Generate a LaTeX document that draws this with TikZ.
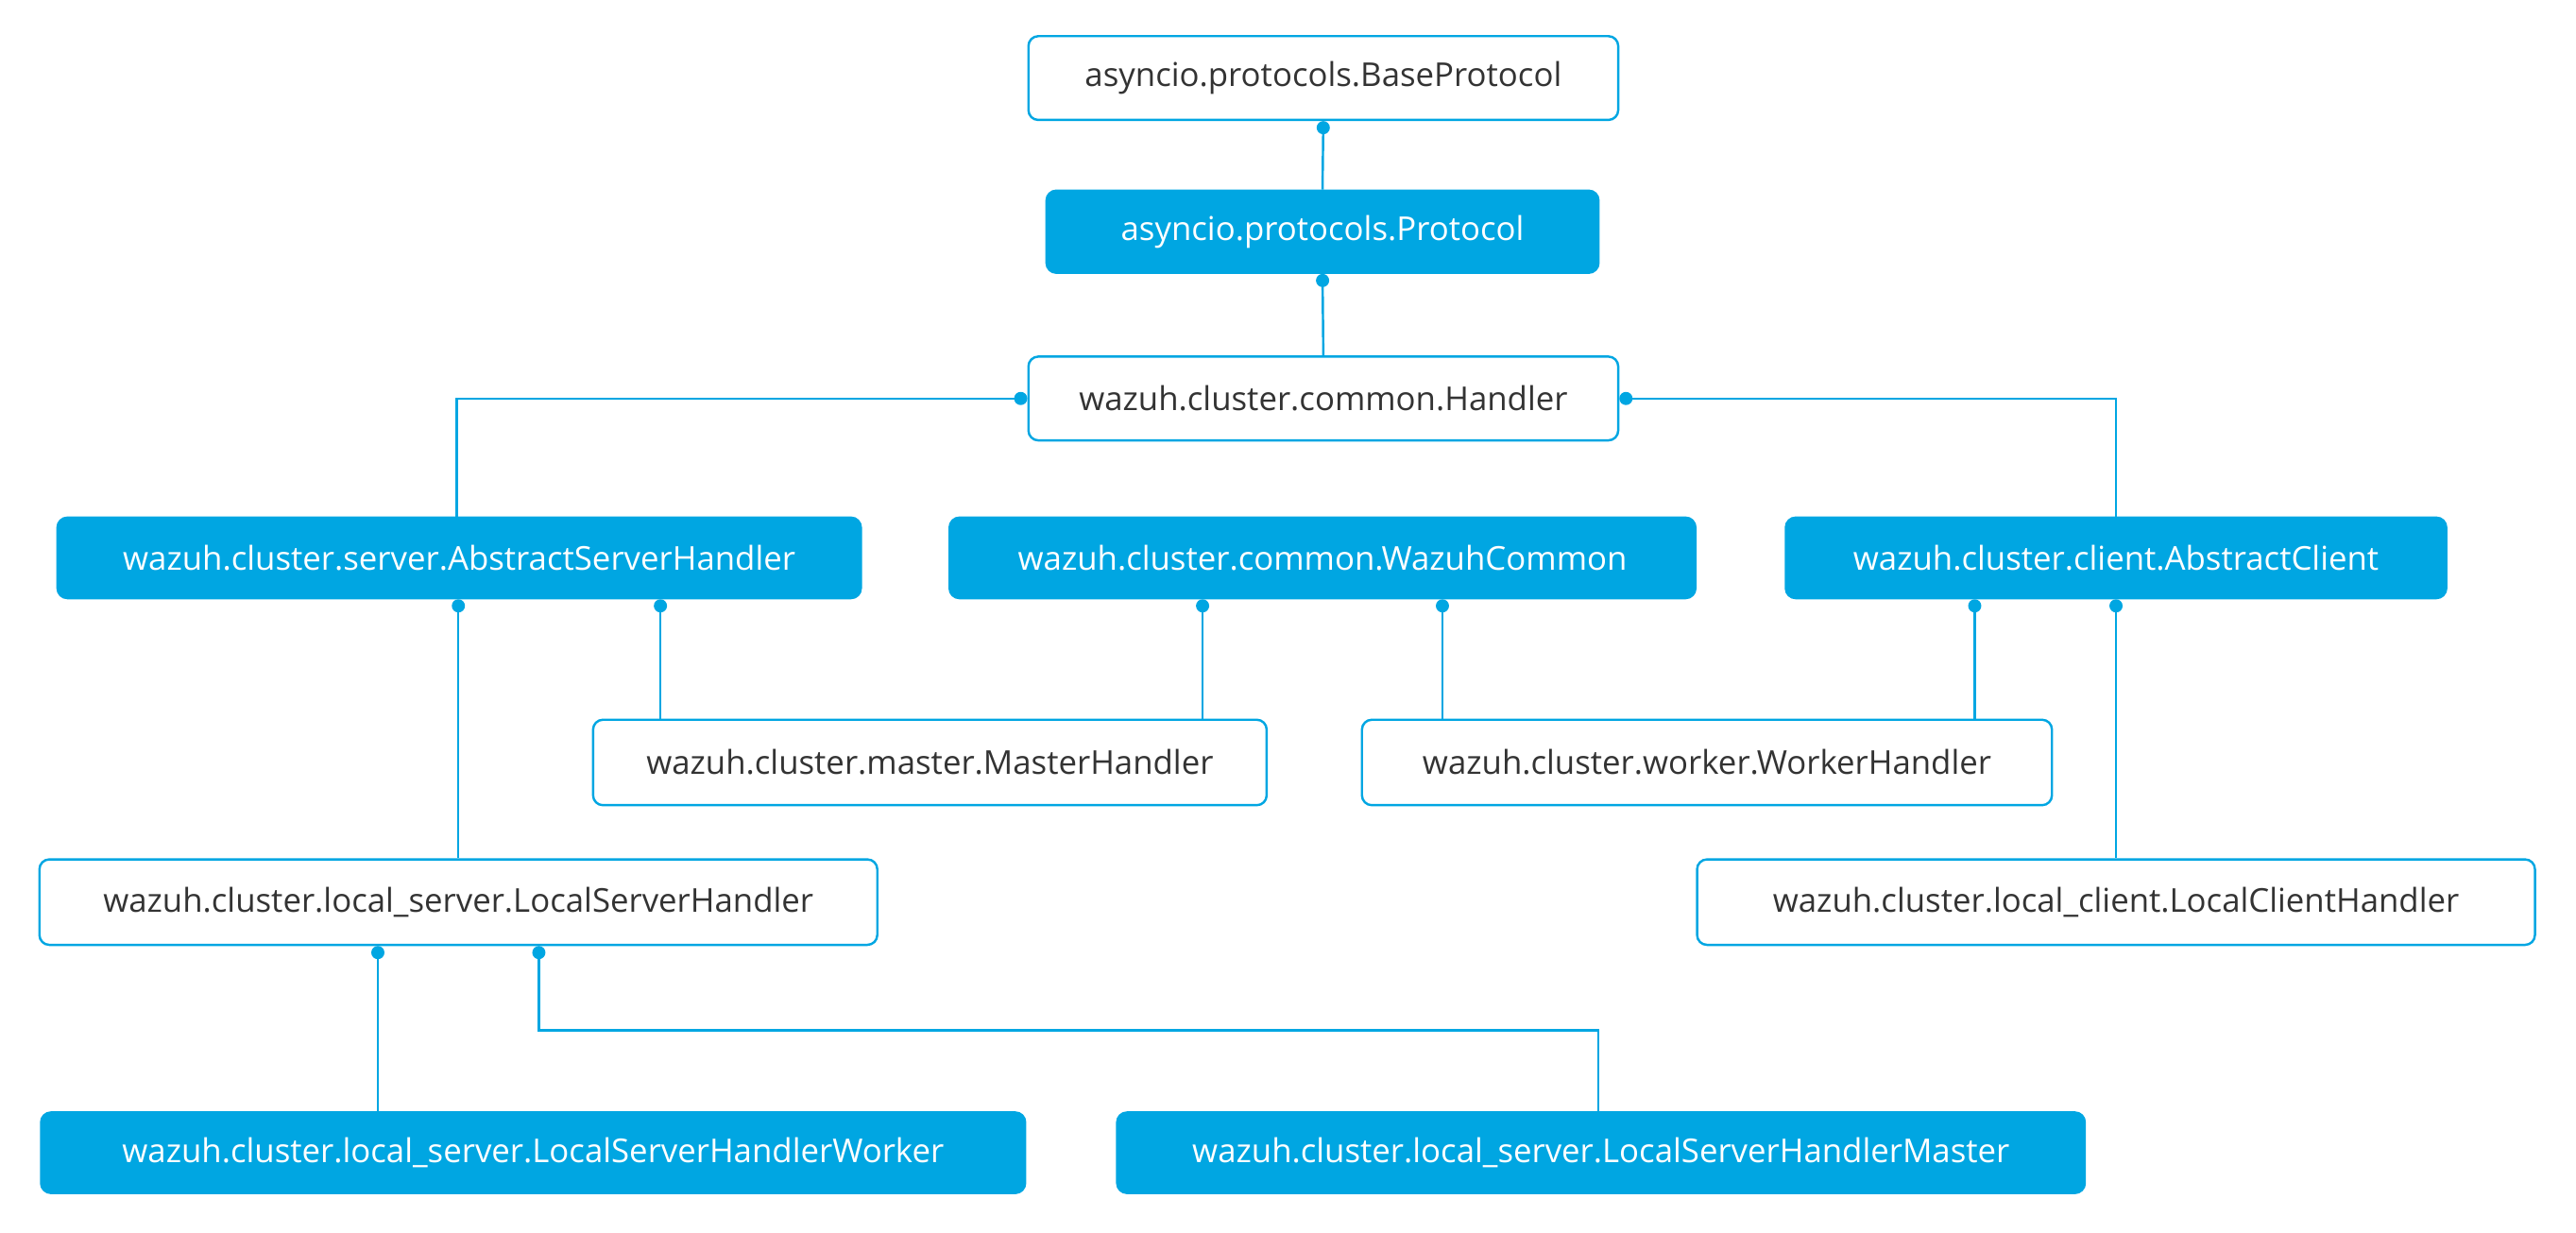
\documentclass[tikz,border=0pt]{standalone}
\usepackage{fontspec}
\setmainfont{Open Sans}
\usetikzlibrary{arrows.meta}
\definecolor{wb}{HTML}{00A6E2}
\definecolor{tx}{HTML}{333333}
\tikzset{
 x=0.5pt,y=-0.5pt,
 box/.style={rounded corners=3pt,line width=0.7pt,draw=wb,inner sep=0pt,font=\fontsize{10}{12}\selectfont},
 wbox/.style={box,fill=white,text=tx},
 bbox/.style={box,fill=wb,text=white},
 con/.style={draw=wb,line width=0.7pt,{Circle[length=4pt]}-},
}
\newcommand{\mkbox}[7]{\node[#1,minimum width={(#4-#3)*0.5pt},minimum height={(#6-#5)*0.5pt}] (#2) at ({(#3+#4)/2},{(#5+#6)/2}) {#7};}
\begin{document}
\begin{tikzpicture}
\useasboundingbox (0,0) rectangle (1568,750);
\mkbox{wbox}{n1}{626}{985}{22}{73}{asyncio.protocols.BaseProtocol}
\mkbox{bbox}{n2}{637}{973}{116}{166}{asyncio.protocols.Protocol}
\mkbox{wbox}{n3}{626}{985}{217}{268}{wazuh.cluster.common.Handler}
\mkbox{bbox}{n4}{35}{524}{315}{364}{wazuh.cluster.server.AbstractServerHandler}
\mkbox{bbox}{n5}{578}{1032}{315}{364}{wazuh.cluster.common.WazuhCommon}
\mkbox{bbox}{n6}{1087}{1489}{315}{364}{wazuh.cluster.client.AbstractClient}
\mkbox{wbox}{n7}{361}{771}{438}{490}{wazuh.cluster.master.MasterHandler}
\mkbox{wbox}{n8}{829}{1249}{438}{490}{wazuh.cluster.worker.WorkerHandler}
\mkbox{wbox}{n9}{24}{534}{523}{575}{wazuh.cluster.local\_server.LocalServerHandler}
\mkbox{wbox}{n10}{1033}{1543}{523}{575}{wazuh.cluster.local\_client.LocalClientHandler}
\mkbox{bbox}{n11}{25}{624}{677}{726}{wazuh.cluster.local\_server.LocalServerHandlerWorker}
\mkbox{bbox}{n12}{680}{1269}{677}{726}{wazuh.cluster.local\_server.LocalServerHandlerMaster}
\draw[con] (n1.south) -- (n2.north);
\draw[con] (n2.south) -- (n3.north);
\draw[con] (n3.west) -| (n4.north -| 278,0);
\draw[con] (n3.east) -| (n6.north -| 1288,0);
\draw[con] (n4.south -| 279,0) -- (n9.north -| 279,0);
\draw[con] (n4.south -| 402,0) -- (n7.north -| 402,0);
\draw[con] (n5.south -| 732,0) -- (n7.north -| 732,0);
\draw[con] (n5.south -| 878,0) -- (n8.north -| 878,0);
\draw[con] (n6.south -| 1202,0) -- (n8.north -| 1202,0);
\draw[con] (n6.south -| 1288,0) -- (n10.north -| 1288,0);
\draw[con] (n9.south -| 230,0) -- (n11.north -| 230,0);
\draw[con] (n9.south -| 328,0) -- (328,627) -| (n12.north -| 973,0);
\end{tikzpicture}
\end{document}
